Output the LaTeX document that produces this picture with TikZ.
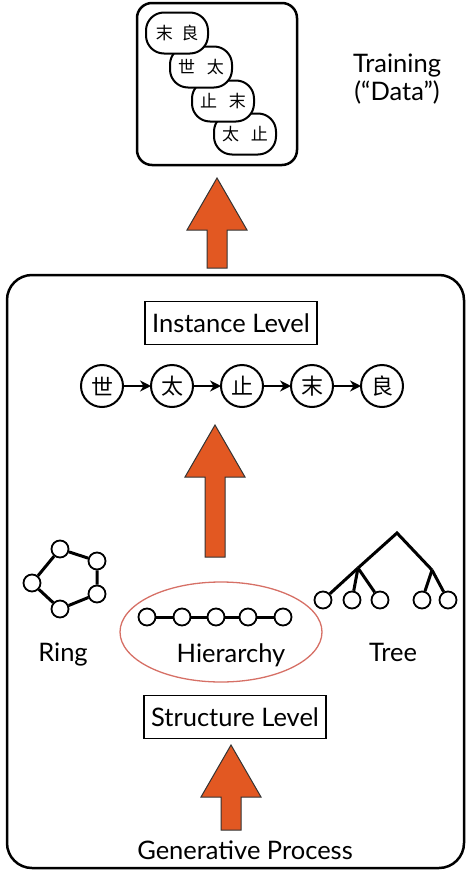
\documentclass[tikz,border=0pt]{standalone}
\usepackage{fontspec}
\setmainfont{Lato}
\newfontfamily\cjk{Noto Sans CJK SC}
\usetikzlibrary{arrows.meta,positioning}
\definecolor{gporange}{RGB}{226,88,34}
\definecolor{gpsalmon}{RGB}{214,112,102}
\tikzset{
    panel/.style={draw=black, line width=2.5pt, rounded corners=#1},
    pill/.style={draw=black, line width=2pt, fill=white, rounded corners=18pt, minimum width=62pt, minimum height=41pt, inner sep=0, font=\cjk\fontsize{17}{17}\selectfont},
    word/.style={circle, draw=black, line width=2pt, minimum size=42pt, inner sep=0, font=\cjk\fontsize{22}{22}\selectfont},
    dot/.style={circle, draw=black, line width=1.8pt, fill=white, minimum size=17pt, inner sep=0},
    txt/.style={font=\fontsize{25.5}{28}\selectfont, inner sep=0, align=center},
    levelbox/.style={draw=black, line width=1.2pt, inner xsep=7pt, minimum height=43pt, font=\fontsize{25.5}{28}\selectfont},
    bigarrow/.style={fill=gporange, draw=black!80, line width=1pt, line join=miter},
    bond/.style={line width=3pt},
    succ/.style={-{Stealth[length=11pt,width=11pt]}, line width=2pt, shorten >=-1pt}
}

\begin{document}
\begin{tikzpicture}[x=1pt,y=-1pt]
    \useasboundingbox (0,0) rectangle (474,870);

    % training data
    \draw[panel=15pt] (137,3) rectangle (297,165);
    \node[pill] (p4) at (245,134) {太\hspace{.7em}止};
    \node[pill] (p3) at (223,101) {止\hspace{.7em}末};
    \node[pill] (p2) at (201,67) {世\hspace{.7em}太};
    \node[pill] (p1) at (177,33) {末\hspace{.5em}良};
    \node[txt] (training) at (397,79) {Training\\(“Data”)};

    % generative process
    \draw[panel=25pt] (7,275) rectangle (464,868);

    % big arrows
    \foreach \cx/\tip/\neck/\bot in {217/178/230/268, 215/425/477/557, 231/745/797/830}
        \draw[bigarrow] (\cx,\tip) -- (\cx+30,\neck) -- (\cx+10,\neck) -- (\cx+10,\bot)
            -- (\cx-10,\bot) -- (\cx-10,\neck) -- (\cx-30,\neck) -- cycle;

    % instance level
    \node[levelbox] (instance) at (231,323) {Instance Level};
    \foreach \i/\ch in {1/世, 2/太, 3/止, 4/末, 5/良}
        \node[word] (w\i) at (32+70*\i,386) {\ch};
    \foreach \i [remember=\i as \j (initially 1)] in {2,...,5}
        \draw[succ] (w\j) -- (w\i);

    % ring
    \node[dot] (r1) at (60,549) {};
    \node[dot] (r2) at (97,561) {};
    \node[dot] (r3) at (97,594) {};
    \node[dot] (r4) at (60,609) {};
    \node[dot] (r5) at (32,583) {};
    \draw[bond] (r1) -- (r2) -- (r3) -- (r4) -- (r5) -- (r1);
    \node[txt] (ring) at (63,655) {Ring};

    % hierarchy
    \draw[gpsalmon, line width=1.3pt] (221,632) ellipse [x radius=101pt, y radius=50pt];
    \foreach \i/\x in {1/147, 2/182, 3/216, 4/248, 5/283}
        \node[dot] (h\i) at (\x,617) {};
    \draw[bond] (h1) -- (h2) -- (h3) -- (h4) -- (h5);
    \node[txt] (hierarchy) at (231,655) {Hierarchy};

    % tree
    \coordinate (root) at (397,533);
    \coordinate (tl) at (358,568);
    \coordinate (tr) at (432,570);
    \foreach \i/\x in {1/323, 2/352, 3/380, 4/422, 5/448}
        \node[dot] (t\i) at (\x,600) {};
    \draw[bond] (tl) -- (root) -- (tr);
    \foreach \i in {1,2,3}
        \draw[bond] (tl) -- (t\i);
    \foreach \i in {4,5}
        \draw[bond] (tr) -- (t\i);
    \node[txt] (tree) at (393,652) {Tree};

    % structure level
    \node[levelbox] (structure) at (235,717) {Structure Level};
    \node[txt] (process) at (245,850) {Generative Process};
\end{tikzpicture}
\end{document}
